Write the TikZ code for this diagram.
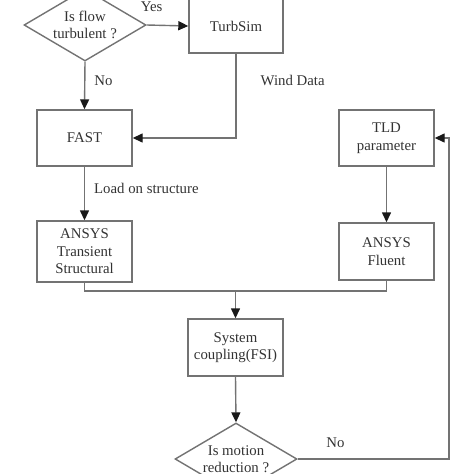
\documentclass[tikz,border=0pt]{standalone}
\usepackage{fontspec}
\setmainfont{Liberation Serif}
\usetikzlibrary{shapes.geometric,arrows.meta}

\begin{document}
\begin{tikzpicture}[x=1pt,y=-1pt,
  font=\fontsize{14.8}{17.5}\selectfont,
  box/.style={rectangle,draw=black!55,line width=1.4pt,fill=white,text=black!80,
    minimum width=95pt,minimum height=56pt,align=center,inner sep=2pt},
  decision/.style={diamond,draw=black!55,line width=1.4pt,fill=white,text=black!80,
    aspect=1.7,inner sep=0pt,minimum width=122pt,minimum height=72pt,align=center},
  link/.style={draw=black!55,line width=1.4pt},
  flow/.style={link,-{Triangle[length=10pt,width=9pt,color=black!90]}},
  tag/.style={text=black!80,inner sep=2pt}]
\useasboundingbox (0,0) rectangle (474,474);
\clip (0,0) rectangle (474,474);

\node [decision] (flowq) at (85,25) {Is flow\\turbulent ?};
\node [box,minimum width=94pt,minimum height=54pt] (turbsim) at (236,26) {TurbSim};
\node [box] (fast) at (84.5,138) {FAST};
\node [box,minimum height=61pt] (transient) at (84.5,251.5) {ANSYS\\Transient\\Structural};
\node [box] (tld) at (386.5,138) {TLD\\parameter};
\node [box,minimum height=57pt] (fluent) at (386.5,251.5) {ANSYS\\Fluent};
\node [box,minimum height=57pt] (coupling) at (235.5,347.5) {System\\coupling(FSI)};
\node [decision] (motionq) at (236,459) {Is motion\\reduction ?};

\coordinate (join) at (235.5,291);
\coordinate (back) at (449,459);

\draw [flow] (flowq.east) -- node[tag,pos=0.12,above=11pt] {Yes} (turbsim.west);
\draw [flow] (flowq.south) -- node[tag,pos=0.41,right=7pt] {No} (fast.north);
\draw [flow] (turbsim.south) |- node[tag,pos=0.16,right=22pt] {Wind Data} (fast.east);
\draw [flow] (fast.south) -- node[tag,pos=0.4,right=7pt] {Load on structure} (transient.north);
\draw [flow] (tld.south) -- (fluent.north);
\draw [link] (transient.south) |- (join) -| (fluent.south);
\draw [flow] (join) -- (coupling.north);
\draw [flow] (coupling.south) -- (motionq.north);
\draw [flow] (motionq.east) -- node[tag,pos=0.25,above=9pt] {No} (back) |- (tld.east);
\end{tikzpicture}
\end{document}
